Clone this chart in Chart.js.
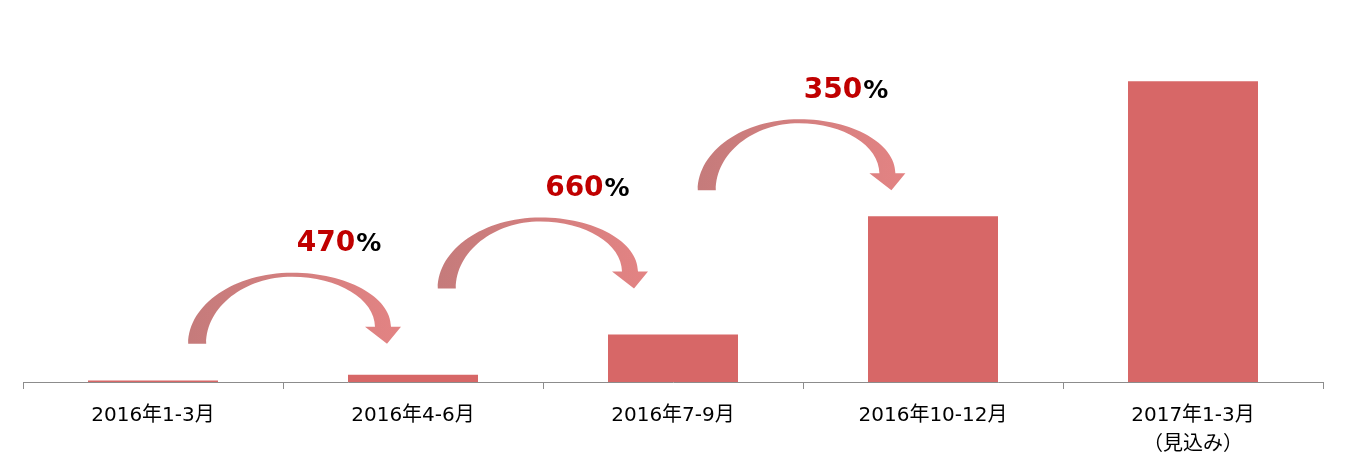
<!DOCTYPE html>
<html>
<head>
<meta charset="utf-8">
<script src="https://cdn.jsdelivr.net/npm/chart.js@4"></script>
<style>
  html, body { margin: 0; padding: 0; background: #fff; }
  #wrap { width: 1346px; height: 471px; }
</style>
</head>
<body>
<div id="wrap"><canvas id="salesChart"></canvas></div>
<script>
const categories = [
    '2016年1-3月',
    '2016年4-6月',
    '2016年7-9月',
    '2016年10-12月',
    ['2017年1-3月', '（見込み）']
];
const sales = [1, 4.7, 31, 108, 196];
const growthRates = ['470', '660', '350'];

// curved arrows between quarters (category units / y value units)
const arrowFrom = [0.17, 1.13, 2.13];
const arrowTo = [0.9, 1.85, 2.84];
const arrowBase = [25, 61, 125];

const growthArrows = {
    id: 'growthArrows',
    afterDatasetsDraw(chart) {
        const { ctx, scales: { x, y } } = chart;
        growthRates.forEach((rate, i) => {
            const xf = x.getPixelForValue(arrowFrom[i]);
            const xt = x.getPixelForValue(arrowTo[i]);
            const yb = y.getPixelForValue(arrowBase[i]);
            const xm = (xf + xt) / 2;
            const top = yb - 71;
            const yh = yb - 17;
            const k = 0.5523;

            const oL = xf - 9, iL = xf + 9;
            const oR = xt + 4, iR = xt - 12;

            const g = ctx.createLinearGradient(oL, 0, xt + 14, 0);
            g.addColorStop(0, '#c57b7b');
            g.addColorStop(1, '#e38383');

            ctx.save();
            ctx.fillStyle = g;
            ctx.beginPath();
            // outer edge
            ctx.moveTo(oL, yb);
            ctx.bezierCurveTo(oL, yb - k * (yb - top), xm - k * (xm - oL), top, xm, top);
            ctx.bezierCurveTo(xm + k * (oR - xm), top, oR, yh - k * (yh - top), oR, yh);
            // head
            ctx.lineTo(xt + 14, yh);
            ctx.lineTo(xt, yb);
            ctx.lineTo(xt - 22, yh);
            ctx.lineTo(iR, yh);
            // inner edge
            const it = top + 4;
            ctx.bezierCurveTo(iR, yh - k * (yh - it), xm + k * (iR - xm), it, xm, it);
            ctx.bezierCurveTo(xm - k * (xm - iL), it, iL, yb - k * (yb - it), iL, yb);
            ctx.closePath();
            ctx.fill();

            // label: red number + black percent sign
            ctx.textBaseline = 'middle';
            ctx.textAlign = 'left';
            ctx.font = 'bold 28px "DejaVu Sans", sans-serif';
            const w1 = ctx.measureText(rate).width;
            ctx.font = 'bold 25px "DejaVu Sans", sans-serif';
            const w2 = ctx.measureText('%').width;
            const cx = xm + 47;
            const ly = top - 29;
            const lx = cx - (w1 + w2 + 1) / 2;
            ctx.fillStyle = '#c00000';
            ctx.font = 'bold 28px "DejaVu Sans", sans-serif';
            ctx.fillText(rate, lx, ly);
            ctx.fillStyle = '#000';
            ctx.font = 'bold 25px "DejaVu Sans", sans-serif';
            ctx.fillText('%', lx + w1 + 1, ly + 1);
            ctx.restore();
        });
    }
};

new Chart(document.getElementById('salesChart'), {
    type: 'bar',
    data: {
        labels: categories,
        datasets: [{
            data: sales,
            backgroundColor: '#d76767',
            barPercentage: 0.5,
            categoryPercentage: 1
        }]
    },
    options: {
        responsive: true,
        maintainAspectRatio: false,
        animation: false,
        layout: { padding: { top: 20, left: 23, right: 23, bottom: 0 } },
        plugins: { legend: { display: false }, tooltip: { enabled: false } },
        scales: {
            x: {
                border: { color: '#8c8c8c', width: 1 },
                grid: {
                    drawOnChartArea: false,
                    drawTicks: true,
                    tickLength: 7,
                    color: '#8c8c8c'
                },
                ticks: {
                    color: '#000',
                    padding: 12,
                    maxRotation: 0,
                    font: { family: '"DejaVu Sans", "Noto Sans CJK JP", sans-serif', size: 20, lineHeight: 1.45 }
                }
            },
            y: {
                display: false,
                min: 0,
                max: 236
            }
        }
    },
    plugins: [growthArrows]
});
</script>
</body>
</html>
